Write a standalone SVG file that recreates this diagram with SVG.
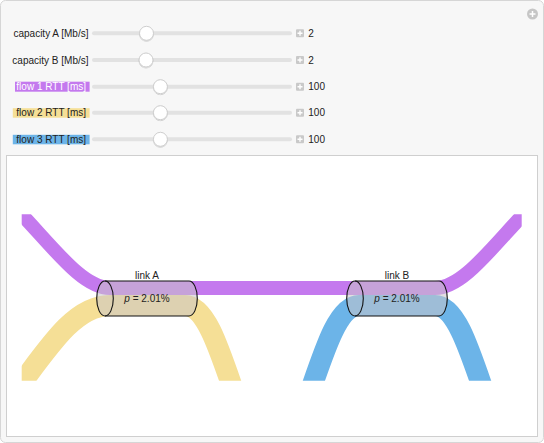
<svg xmlns="http://www.w3.org/2000/svg" width="544" height="443" viewBox="0 0 544 443">
<style>
text{font-family:"Liberation Sans",Arial,sans-serif;font-size:10px;fill:#222}
.lbl{text-anchor:end}
.track{fill:#e2e2e2}
.knob{fill:#fff;stroke:#cfcfcf;stroke-width:1}
.pbox{fill:#c9c9c9}
.pl{stroke:#fff;stroke-width:1.4}
.flow{fill:none;stroke-linecap:butt}
.cylfill{fill:#c8c4c8;fill-opacity:0.55}
.cyl{fill:none;stroke:#111;stroke-width:1.1}
.mid{text-anchor:middle}
</style>
<defs>
<clipPath id="plotclip"><rect x="21.7" y="214.3" width="500" height="166.4"/></clipPath>
<filter id="sh" x="-50%" y="-50%" width="200%" height="200%"><feDropShadow dx="0" dy="0.6" stdDeviation="0.7" flood-color="#000" flood-opacity="0.25"/></filter>
</defs>
<rect x="0.5" y="0.5" width="543" height="442" rx="5" fill="#f7f7f7" stroke="#d6d6d6"/>
<g id="addbutton">
<circle cx="532.5" cy="14" r="5.5" fill="#c6c6c6"/>
<path d="M529.5 14H535.5M532.5 11V17" stroke="#fff" stroke-width="1.5"/>
</g>
<g id="controls">
<g id="ctrl-capA">
<text class="lbl" x="88.5" y="36.8">capacity A [Mb/s]</text>
<rect class="track" x="92" y="31.3" width="200" height="4" rx="2"/>
<circle class="knob" cx="146.5" cy="33.3" r="7" filter="url(#sh)"/>
<rect class="pbox" x="296" y="29.3" width="8" height="8" rx="1"/>
<path class="pl" d="M297.5 33.3H302.5M300 30.8V35.8"/>
<text x="308.3" y="36.8">2</text>
</g>
<g id="ctrl-capB">
<text class="lbl" x="88.5" y="63.5">capacity B [Mb/s]</text>
<rect class="track" x="92" y="58" width="200" height="4" rx="2"/>
<circle class="knob" cx="146" cy="60" r="7" filter="url(#sh)"/>
<rect class="pbox" x="296" y="56" width="8" height="8" rx="1"/>
<path class="pl" d="M297.5 60H302.5M300 57.5V62.5"/>
<text x="308.3" y="63.5">2</text>
</g>
<g id="ctrl-flow1">
<rect x="15" y="81.7" width="74.6" height="10" fill="#c479ee"/>
<text class="lbl" x="86" y="90.2" style="fill:#fff">flow 1 RTT [ms]</text>
<rect class="track" x="92" y="84.7" width="200" height="4" rx="2"/>
<circle class="knob" cx="160.4" cy="86.7" r="7" filter="url(#sh)"/>
<rect class="pbox" x="296" y="82.7" width="8" height="8" rx="1"/>
<path class="pl" d="M297.5 86.7H302.5M300 84.2V89.2"/>
<text x="308.3" y="90.2">100</text>
</g>
<g id="ctrl-flow2">
<rect x="12.8" y="108.2" width="76.8" height="9.5" fill="#f5df96"/>
<text class="lbl" x="86" y="116.2">flow 2 RTT [ms]</text>
<rect class="track" x="92" y="110.7" width="200" height="4" rx="2"/>
<circle class="knob" cx="160.4" cy="112.7" r="7" filter="url(#sh)"/>
<rect class="pbox" x="296" y="108.7" width="8" height="8" rx="1"/>
<path class="pl" d="M297.5 112.7H302.5M300 110.2V115.2"/>
<text x="308.3" y="116.2">100</text>
</g>
<g id="ctrl-flow3">
<rect x="12.8" y="134.8" width="76.8" height="9.5" fill="#6cb4e8"/>
<text class="lbl" x="86" y="142.8">flow 3 RTT [ms]</text>
<rect class="track" x="92" y="137.3" width="200" height="4" rx="2"/>
<circle class="knob" cx="160.4" cy="139.3" r="7" filter="url(#sh)"/>
<rect class="pbox" x="296" y="135.3" width="8" height="8" rx="1"/>
<path class="pl" d="M297.5 139.3H302.5M300 136.8V141.8"/>
<text x="308.3" y="142.8">100</text>
</g>
</g>
<rect x="6.5" y="155.5" width="531" height="281" fill="#fff" stroke="#cfcfcf"/>
<g id="connectors" clip-path="url(#plotclip)">
<path id="flow2" class="flow" stroke="#f5df96" stroke-width="21" d="M13 395C50 345 75 305.5 110 305.5L185 305.5C205 305.5 218 345 235 395"/>
<path id="flow3" class="flow" stroke="#6cb4e8" stroke-width="21" d="M309 395C326 345 339 305.5 359 305.5L435 305.5C455 305.5 468 345 485 395"/>
<path id="flow1" class="flow" stroke="#c479ee" stroke-width="14" d="M5 197C50 242 80 288 110 288L435 288C465 288 495 242 540 197"/>
</g>
<g id="linkA">
<path class="cylfill" d="M105 281H189A8.3 17.5 0 0 1 189 316H105A8.3 17.5 0 0 1 105 281Z"/>
<path class="cyl" d="M105 281H189A8.3 17.5 0 0 1 189 316H105"/>
<ellipse class="cyl" cx="105" cy="298.5" rx="8.3" ry="17.5"/>
<text class="mid" x="147" y="279">link A</text>
<text class="mid" x="147" y="302"><tspan font-style="italic">p</tspan> = 2.01%</text>
</g>
<g id="linkB">
<path class="cylfill" d="M355 281H439A8.3 17.5 0 0 1 439 316H355A8.3 17.5 0 0 1 355 281Z"/>
<path class="cyl" d="M355 281H439A8.3 17.5 0 0 1 439 316H355"/>
<ellipse class="cyl" cx="355" cy="298.5" rx="8.3" ry="17.5"/>
<text class="mid" x="397" y="279">link B</text>
<text class="mid" x="397" y="302"><tspan font-style="italic">p</tspan> = 2.01%</text>
</g>
</svg>
